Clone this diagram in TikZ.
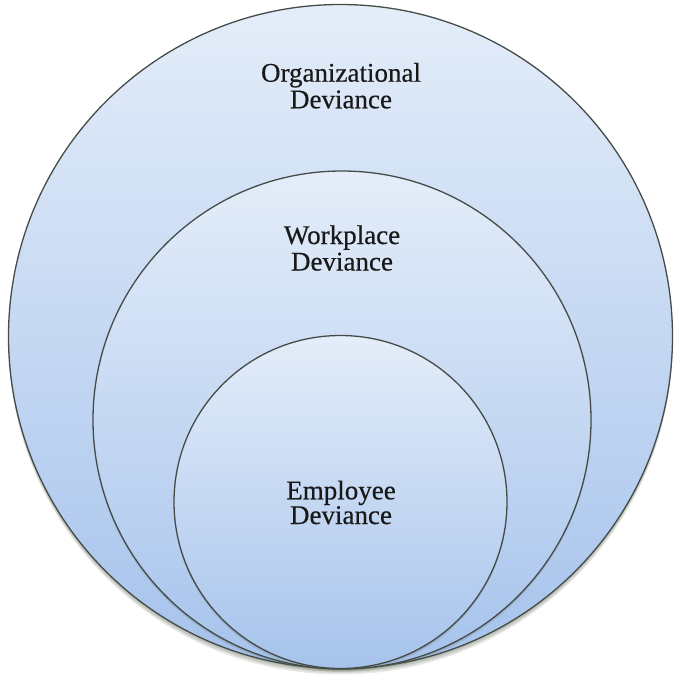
\documentclass[tikz,border=0pt]{standalone}
\usepackage{fontspec}
\setmainfont{Liberation Serif}
\begin{document}
\begin{tikzpicture}[x=1pt,y=-1pt]
\definecolor{topc}{HTML}{E4EDF9}
\definecolor{botc}{HTML}{A6C3EC}
\definecolor{edgec}{HTML}{454C48}
\definecolor{shadc}{HTML}{4E5A44}
\tikzset{
  ring/.style={circle, draw=edgec, line width=1.3pt, top color=topc, bottom color=botc, inner sep=0pt, minimum size=#1},
  labeltext/.style={font=\fontsize{27}{27}\selectfont\addfontfeature{FakeBold=0.5}, anchor=base, inner sep=0pt, text=black!90},
  ringshadow/.style={fill=shadc, fill opacity=0.13, draw=none}
}
\useasboundingbox (0,0) rectangle (685,688);
% soft shadows
\foreach \d in {1.5,3,4.5,6} {
  \fill[ringshadow] (340.5,336.5+\d) circle[radius=332];
}
% outer
\node[ring=664] (outer) at (340.5,336.5) {};
\node[labeltext] (orgA) at (341,81.7) {Organizational};
\node[labeltext] (orgB) at (341,108.3) {Deviance};
% middle
\foreach \d in {1.5,3} {
  \fill[ringshadow] (342,420+\d) circle[radius=249];
}
\node[ring=498] (middle) at (342,420) {};
\node[labeltext] (wpA) at (342,244) {Workplace};
\node[labeltext] (wpB) at (342,270.5) {Deviance};
% inner
\foreach \d in {1.5,3} {
  \fill[ringshadow] (340.5,502+\d) circle[radius=166.5];
}
\node[ring=333] (inner) at (340.5,502) {};
\node[labeltext] (emA) at (341,499.3) {Employee};
\node[labeltext] (emB) at (341,524) {Deviance};
\end{tikzpicture}
\end{document}
